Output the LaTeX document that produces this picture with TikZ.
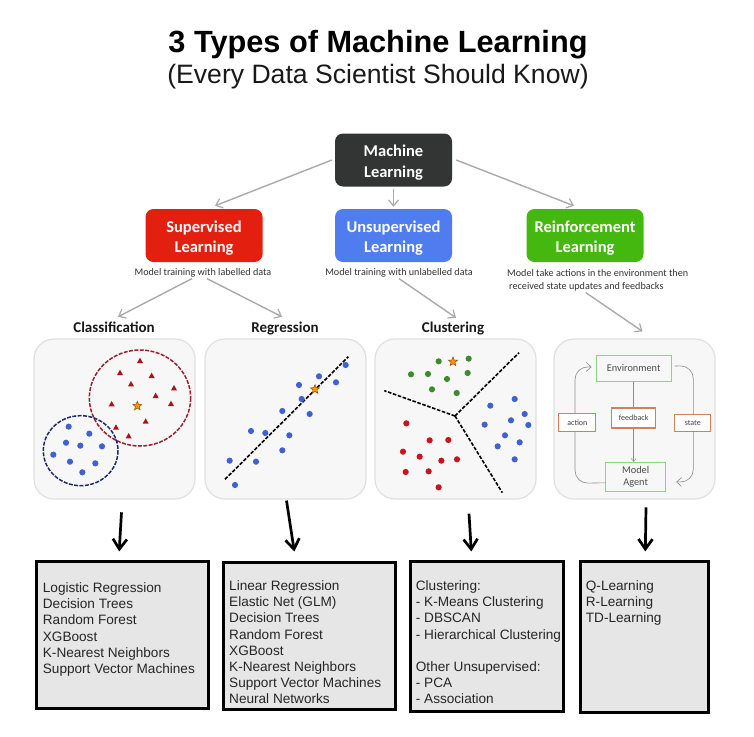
\documentclass[tikz,border=0pt]{standalone}
\usepackage{fontspec}
\setmainfont{Liberation Sans}
\newfontfamily\carl{Carlito}
\usetikzlibrary{arrows.meta,shapes.geometric,shadows}
\definecolor{mlc}{HTML}{333535}
\definecolor{supc}{HTML}{E3200F}
\definecolor{unsc}{HTML}{4F7DF0}
\definecolor{reic}{HTML}{45B80F}
\definecolor{arrg}{HTML}{A8ABA8}
\definecolor{panelf}{HTML}{F7F7F7}
\definecolor{paneld}{HTML}{E0E0E0}
\definecolor{dotb}{HTML}{3F62D0}
\definecolor{dotr}{HTML}{C8141C}
\definecolor{dotg}{HTML}{3F8A2E}
\definecolor{triR}{HTML}{A8141C}
\definecolor{circR}{HTML}{9A1F35}
\definecolor{circB}{HTML}{1F2A6A}
\definecolor{envg}{HTML}{8CD47E}
\definecolor{fbo}{HTML}{D0805C}
\definecolor{listf}{HTML}{E6E6E6}
\tikzset{
  catbox/.style={rounded corners=8pt,minimum width=117pt,minimum height=53pt,align=center,text=white,
     font=\carl\fontsize{16.5}{20.5}\selectfont\bfseries,inner sep=0pt},
  desc/.style={font=\carl\fontsize{10.15}{13}\selectfont,text=black!80,inner sep=0pt,align=left},
  headlab/.style={font=\carl\fontsize{15}{16}\selectfont\bfseries,inner sep=0pt,text=black!90,text height=10pt,text depth=3pt},
  panel/.style={draw=paneld,fill=panelf,line width=1.2pt,rounded corners=20pt,minimum width=161pt,minimum height=160pt},
  grarrow/.style={draw=arrg,line width=1.4pt,-{Straight Barb[length=6pt,width=10pt,line width=1.2pt]}},
  blarrow/.style={draw=black,line width=2.7pt,-{Straight Barb[length=10pt,width=14pt,line width=2.7pt]}},
  listbox/.style={draw=black,fill=listf,line width=3pt,drop shadow={shadow xshift=1.5pt,shadow yshift=-1.5pt,fill=black!50,opacity=.7}},
  listtxt/.style={anchor=north west,inner sep=0pt,align=left,font=\fontsize{13.6}{16.2}\selectfont,text=black!85},
  starnode/.style={star,star points=5,star point ratio=2.3,fill=orange!85!yellow,draw=orange!60!black,line width=.5pt,minimum size=9.5pt,inner sep=0pt},
  dash1/.style={dash pattern=on 4pt off 1.4pt,line width=1.5pt},
  dash2/.style={dash pattern=on 3.6pt off 1.6pt,line width=1.6pt,draw=black},
  gbox/.style={draw=envg,fill=panelf,line width=1pt,font=\carl\fontsize{10.3}{12.5}\selectfont,text=black!70,align=center,inner sep=0pt},
  obox/.style={draw=fbo,fill=white,line width=.9pt,font=\carl\fontsize{8}{9}\selectfont,text=black!75,inner sep=0pt},
  rlflow/.style={draw=black!45,line width=.6pt,rounded corners=13pt,-{Straight Barb[length=5pt,width=9pt,line width=.6pt]}},
  rlline/.style={draw=black!45,line width=.6pt,-{Straight Barb[length=3pt,width=5pt,line width=.5pt]}},
}
\newcommand{\dotsat}[2]{\foreach \p in {#2}{\fill[#1] \p circle (3.1pt);}}
\newcommand{\trisat}[1]{\foreach \p in {#1}{\fill[triR] \p ++(0,-9) -- ++(9,16) -- ++(-18,0) -- cycle;}}
\newcommand{\catstrut}{\rule{0pt}{17pt}}
\begin{document}
\begin{tikzpicture}[x=1pt,y=-1pt]
\useasboundingbox[fill=white] (0,0) rectangle (754,736);

\node[inner sep=0pt,font=\fontsize{30.7}{34}\selectfont\bfseries] (title) at (378,44.5) {3 Types of Machine Learning};
\node[inner sep=0pt,font=\fontsize{26.6}{28}\selectfont,text=black!90] (subtitle) at (378,77) {(Every Data Scientist Should Know)};

\node[catbox,fill=mlc] (ml) at (393.5,160) {\catstrut Machine\\Learning};
\node[catbox,fill=supc] (sup) at (204,235.5) {\catstrut Supervised\\Learning};
\node[catbox,fill=unsc] (uns) at (393.5,235.5) {\catstrut Unsupervised\\Learning};
\node[catbox,fill=reic] (rei) at (585,235.5) {\catstrut Reinforcement\\Learning};

\node[desc] (supd) at (203,273) {Model training with labelled data};
\node[desc] (unsd) at (399,273) {Model training with unlabelled data};
\node[desc,anchor=north west] (reid) at (507,269.5) {Model take actions in the environment then\\\hspace*{2pt}received state updates and feedbacks};

\node[headlab] (hc) at (114,329) {Classification};
\node[headlab] (hr) at (285,329) {Regression};
\node[headlab] (hk) at (453,329) {Clustering};

\node[panel] (p1) at (114.5,419) {};
\node[panel] (p2) at (285.5,419) {};
\node[panel] (p3) at (455.5,419) {};
\node[panel] (p4) at (634.5,419) {};

\draw[grarrow] ([xshift=-3pt]ml.west) -- ([xshift=11pt,yshift=3pt]sup.north);
\draw[grarrow] ([yshift=-2pt]ml.south) -- ([yshift=2pt]uns.north);
\draw[grarrow] ([xshift=4pt]ml.east) -- ([xshift=-11pt,yshift=3pt]rei.north);
\draw[grarrow] ([xshift=-11pt,yshift=-1pt]supd.south) -- ([xshift=4pt,yshift=5.5pt]hc.north);
\draw[grarrow] ([xshift=4pt,yshift=-1pt]supd.south) -- ([xshift=-3pt,yshift=5.5pt]hr.north);
\draw[grarrow] ([yshift=-1pt]unsd.south) -- ([xshift=3pt,yshift=4.5pt]hk.north);
\draw[grarrow] ([xshift=-12pt,yshift=-1pt]reid.south) -- ([xshift=8pt,yshift=7pt]p4.north);

% Classification panel
\begin{scope}[shift={(20pt,-320pt)},x=.33333pt,y=-.33333pt]
  \draw[dash1,draw=circR] (360,234) circle [x radius=152,y radius=144];
  \draw[dash1,draw=circB] (182,392) ellipse [x radius=112,y radius=105];
  \trisat{(360,122),(300,158),(395,167),(333,192),(462,204),(407,227),(275,252),(453,251),(377,304),(288,322),(326,348)}
  \dotsat{dotb}{(146,320),(208,341),(138,368),(181,377),(246,379),(100,404),(150,425),(226,430),(187,457)}
  \node[starnode] (s1) at (352,258) {};
  % Regression
  \draw[dash2] (615,478) -- (985,110);
  \dotsat{dotb}{(977,135),(897,169),(948,187),(837,195),(845,237),(787,273),(869,282),(693,333),(736,339),(808,346),(787,391),(629,422),(708,425),(645,495)}
  \node[starnode] (s2) at (885,208) {};
\end{scope}

% Clustering and RL panels
\begin{scope}[shift={(370pt,-320pt)},x=.33333pt,y=-.33333pt]
  \draw[dash2] (255,288) -- (447,98);
  \draw[dash2] (255,288) -- (43,212);
  \draw[dash2] (255,288) -- (397,518);
  \dotsat{dotg}{(206,124),(296,116),(123,163),(174,162),(293,159),(231,177),(186,208),(260,219)}
  \dotsat{dotb}{(434,237),(361,257),(464,282),(423,301),(344,314),(475,315),(405,346),(449,367),(383,379),(434,418)}
  \dotsat{dotr}{(109,310),(179,361),(235,360),(99,395),(149,410),(214,422),(261,418),(107,456),(176,454),(206,502)}
  \node[starnode] (s3) at (249,125) {};

  \node[gbox,minimum width=75pt,minimum height=26pt] (env) at (791,144) {Environment};
  \node[gbox,minimum width=60pt,minimum height=29pt] (agent) at (797,470.5) {Model\\Agent};
  \draw[rlline] (env.south) -- (env.south |- agent.north);
  \coordinate (c1) at (615,490);
  \coordinate (c2) at (615,140);
  \coordinate (c3) at (970,137);
  \coordinate (c4) at (970,487);
  \draw[rlflow] ([yshift=-6pt]agent.west) -- (c1) -- (c2) -- ([xshift=-4pt,yshift=1pt]env.west);
  \draw[rlflow] ([xshift=3pt,yshift=2pt]env.east) -- (c3) -- (c4) -- ([xshift=10pt,yshift=-5pt]agent.east);
  \node[obox,line width=1.2pt,minimum width=44pt,minimum height=20pt] (fb) at (791,294) {feedback};
  \node[obox,minimum width=37pt,minimum height=17.5pt] (act) at (622,307) {action};
  \node[obox,minimum width=36pt,minimum height=17pt] (sta) at (968.5,309) {state};
\end{scope}

% Bottom boxes
\node[listbox,minimum width=171.7pt,minimum height=146.7pt] (b1) at (122.2,635.3) {};
\node[listbox,minimum width=172pt,minimum height=147.4pt] (b2) at (309.3,635.7) {};
\node[listbox,minimum width=153.4pt,minimum height=149.7pt] (b3) at (487,636.8) {};
\node[listbox,minimum width=128.4pt,minimum height=150.7pt] (b4) at (644.5,637.3) {};

\node[listtxt] (t1) at (42.7,582.5) {Logistic Regression\\Decision Trees\\Random Forest\\XGBoost\\K-Nearest Neighbors\\Support Vector Machines};
\node[listtxt] (t2) at (229,580.5) {Linear Regression\\Elastic Net (GLM)\\Decision Trees\\Random Forest\\XGBoost\\K-Nearest Neighbors\\Support Vector Machines\\Neural Networks};
\node[listtxt] (t3) at (415.7,580.5) {Clustering:\\- K-Means Clustering\\- DBSCAN\\- Hierarchical Clustering\\[16.2pt]Other Unsupervised:\\- PCA\\- Association};
\node[listtxt] (t4) at (585.7,580.5) {Q-Learning\\R-Learning\\TD-Learning};

\draw[blarrow] ([xshift=7pt,yshift=-12.7pt]p1.south) -- ([xshift=-3pt,yshift=9pt]b1.north);
\draw[blarrow] ([xshift=1pt,yshift=-1pt]p2.south) -- ([xshift=-15pt,yshift=9pt]b2.north);
\draw[blarrow] ([xshift=13.5pt,yshift=-14pt]p3.south) -- ([xshift=-15.7pt,yshift=9pt]b3.north);
\draw[blarrow] ([xshift=11.5pt,yshift=-7.7pt]p4.south) -- ([xshift=.8pt,yshift=9pt]b4.north);
\end{tikzpicture}
\end{document}
